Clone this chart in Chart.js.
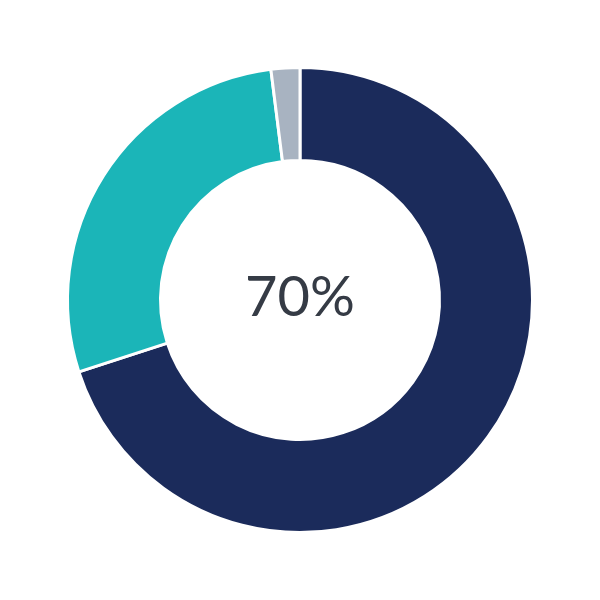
<!DOCTYPE html>
<html><head><meta charset="utf-8">
<script src="https://cdn.jsdelivr.net/npm/chart.js@4"></script>
<style>html,body{margin:0;padding:0;background:#fff}#wrap{position:relative;width:600px;height:600px}#c{position:absolute;left:0;top:0}#lbl{position:absolute;left:0;top:-6px;width:600px;height:600px;display:flex;align-items:center;justify-content:center;font-family:Lato,'Open Sans',sans-serif;font-weight:400;font-size:56px;color:#353b45;pointer-events:none}</style>
</head><body>
<div id="wrap"><canvas id="c" width="600" height="600"></canvas><div id="lbl">70%</div></div>
<script>
const categories = ['A', 'B', 'C'];
const values = [70, 28, 2];
const colors = ['#1b2b5b', '#1bb5b8', '#a8b3c1'];
const centerLabel = '70%';
document.getElementById('lbl').textContent = centerLabel;
new Chart(document.getElementById('c'), {
  type: 'doughnut',
  data: { labels: categories, datasets: [{ data: values, backgroundColor: colors, borderColor: '#ffffff', borderWidth: 3 }] },
  options: {
    responsive: false, animation: false,
    cutout: '60%',
    layout: { padding: 66 },
    plugins: { legend: { display: false }, tooltip: { enabled: false } }
  }
});
</script>
</body></html>
